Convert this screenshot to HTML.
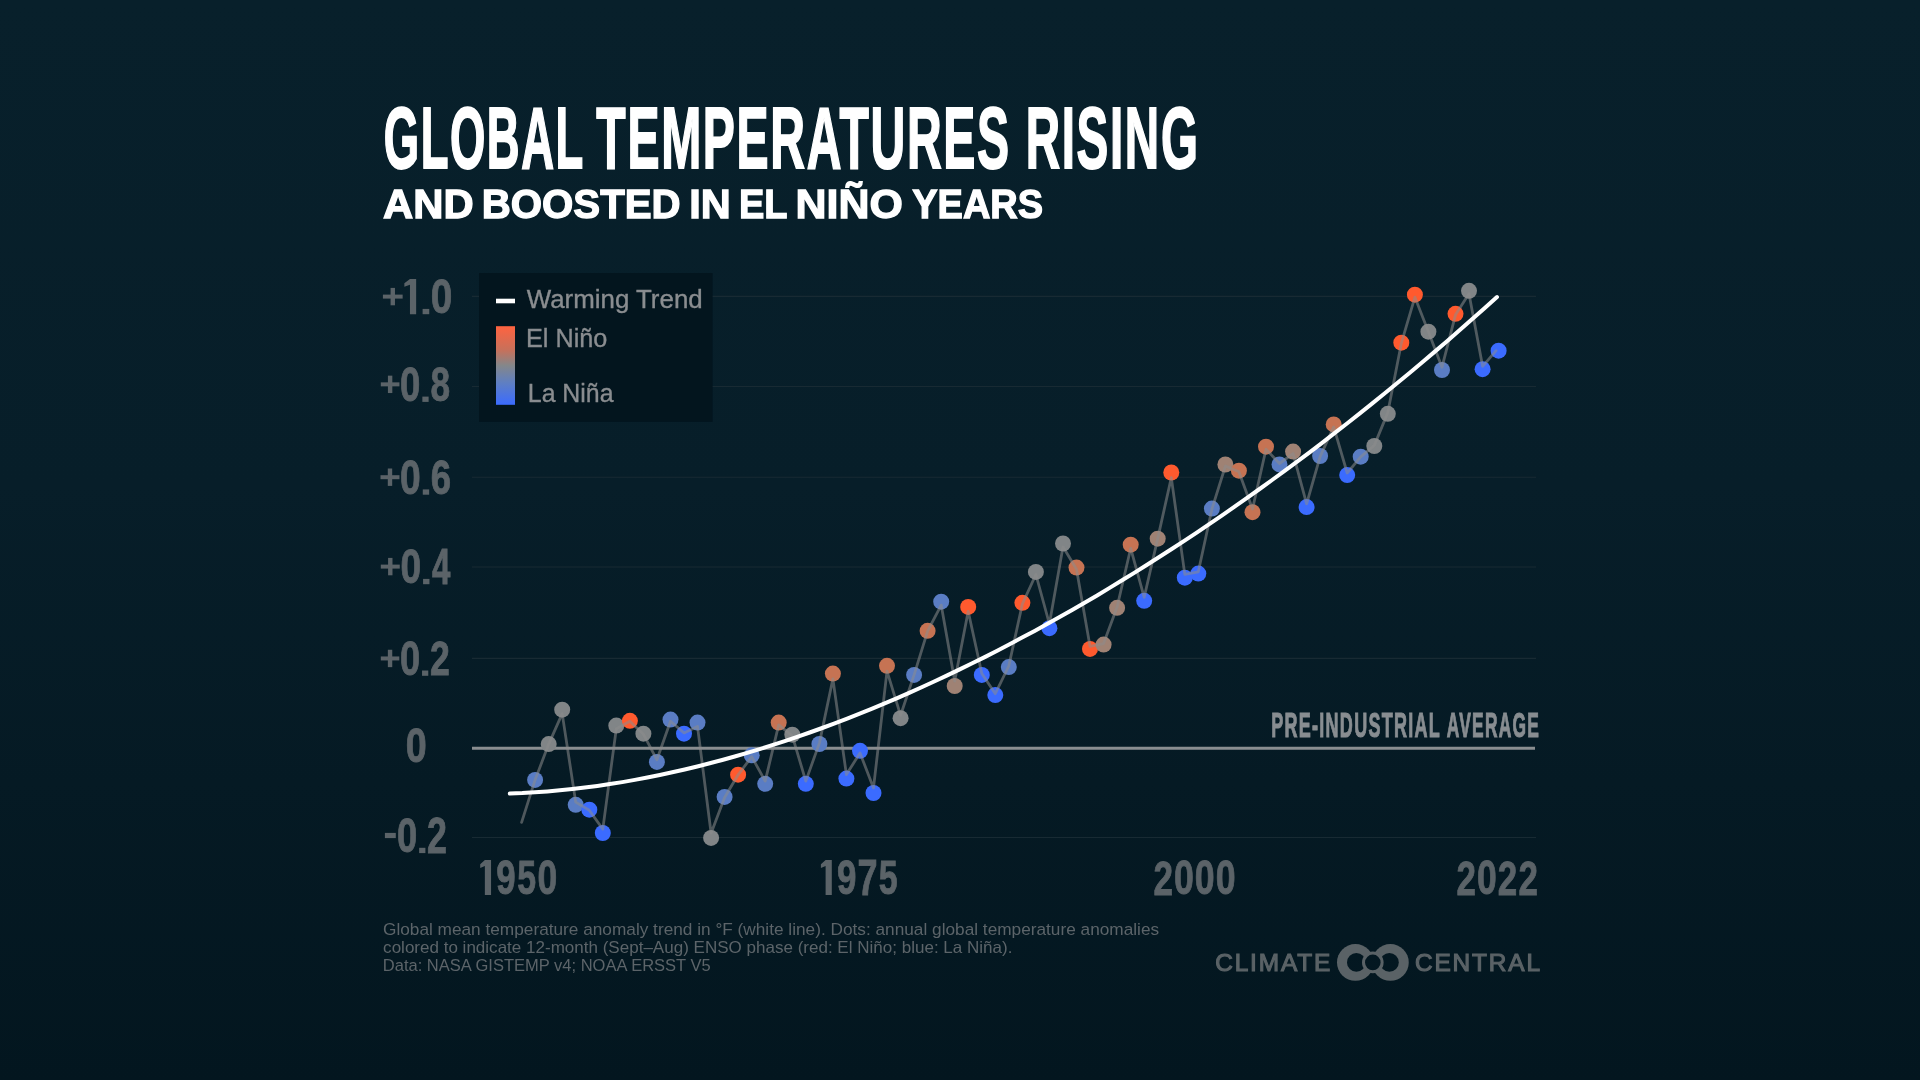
<!DOCTYPE html>
<html><head><meta charset="utf-8"><style>
html,body{margin:0;padding:0;width:1920px;height:1080px;overflow:hidden;background:#08202c;}
svg{display:block;will-change:transform;}
text{font-family:"Liberation Sans", sans-serif;}
.cond{font-weight:bold;fill:#5b6368;}
</style></head><body>
<svg width="1920" height="1080" viewBox="0 0 1920 1080">
<defs>
<linearGradient id="bg" x1="0" y1="0" x2="0" y2="1">
<stop offset="0" stop-color="#08202b"/><stop offset="0.45" stop-color="#071e29"/><stop offset="1" stop-color="#03161f"/>
</linearGradient>
<linearGradient id="leg" x1="0" y1="0" x2="0" y2="1">
<stop offset="0" stop-color="#ff6340"/><stop offset="0.3" stop-color="#c8705a"/><stop offset="0.5" stop-color="#84878a"/><stop offset="0.72" stop-color="#5f7fc2"/><stop offset="1" stop-color="#3b6bff"/>
</linearGradient>
<mask id="logom"><rect x="1300" y="900" width="150" height="100" fill="black"/>
<circle cx="1355.4" cy="962.4" r="18.4" fill="white"/><circle cx="1390.35" cy="962.4" r="18.4" fill="white"/>
<circle cx="1356.4" cy="962.4" r="9.4" fill="black"/><circle cx="1389.4" cy="962.4" r="9.4" fill="black"/>
<circle cx="1372.8" cy="962.4" r="10.8" fill="white"/><circle cx="1372.8" cy="962.4" r="7.8" fill="black"/>
</mask>
</defs>
<rect width="1920" height="1080" fill="url(#bg)"/>
<text x="383.73" y="167.87" font-size="87.63" font-weight="bold" textLength="201.22" lengthAdjust="spacingAndGlyphs" fill="#ffffff" stroke="#ffffff" stroke-width="1.9" letter-spacing="3">GLOBAL</text><text x="596.37" y="167.87" font-size="87.63" font-weight="bold" textLength="414.41" lengthAdjust="spacingAndGlyphs" fill="#ffffff" stroke="#ffffff" stroke-width="1.9" letter-spacing="3">TEMPERATURES</text><text x="1025.74" y="167.87" font-size="87.63" font-weight="bold" textLength="173.82" lengthAdjust="spacingAndGlyphs" fill="#ffffff" stroke="#ffffff" stroke-width="1.9" letter-spacing="3">RISING</text>
<text x="383.0" y="217.75" font-size="41.02" font-weight="bold" textLength="90.58" lengthAdjust="spacingAndGlyphs" fill="#ffffff" stroke="#ffffff" stroke-width="1.3">AND</text><text x="481.63" y="217.75" font-size="41.02" font-weight="bold" textLength="199.02" lengthAdjust="spacingAndGlyphs" fill="#ffffff" stroke="#ffffff" stroke-width="1.3">BOOSTED</text><text x="689.35" y="217.75" font-size="41.02" font-weight="bold" textLength="41.5" lengthAdjust="spacingAndGlyphs" fill="#ffffff" stroke="#ffffff" stroke-width="1.3">IN</text><text x="738.99" y="217.75" font-size="41.02" font-weight="bold" textLength="48.52" lengthAdjust="spacingAndGlyphs" fill="#ffffff" stroke="#ffffff" stroke-width="1.3">EL</text><text x="795.56" y="217.75" font-size="41.02" font-weight="bold" textLength="107.22" lengthAdjust="spacingAndGlyphs" fill="#ffffff" stroke="#ffffff" stroke-width="1.3">NIÑO</text><text x="912.29" y="217.75" font-size="41.02" font-weight="bold" textLength="130.8" lengthAdjust="spacingAndGlyphs" fill="#ffffff" stroke="#ffffff" stroke-width="1.3">YEARS</text>
<line x1="472" x2="1536" y1="296.4" y2="296.4" stroke="#182a33" stroke-width="1.1"/><line x1="472" x2="1536" y1="386.5" y2="386.5" stroke="#182a33" stroke-width="1.1"/><line x1="472" x2="1536" y1="477.2" y2="477.2" stroke="#182a33" stroke-width="1.1"/><line x1="472" x2="1536" y1="567.0" y2="567.0" stroke="#182a33" stroke-width="1.1"/><line x1="472" x2="1536" y1="658.4" y2="658.4" stroke="#182a33" stroke-width="1.1"/><line x1="472" x2="1536" y1="837.5" y2="837.5" stroke="#182a33" stroke-width="1.1"/>
<rect x="382.90" y="294.60" width="19.74" height="4" fill="#5b6368"/><rect x="390.57" y="287.90" width="4.4" height="17.4" fill="#5b6368"/><path d="M409.96,279 L416.16,279 L416.16,314.2 L409.96,314.2 L409.96,284.80 L404.36,286.80 L404.36,283.20 Z" fill="#5b6368"/><rect x="422.60" y="308.90" width="6.65" height="5.3" fill="#5b6368"/><text x="430.84" y="313.27" font-size="48.48" font-weight="bold" textLength="21.56" lengthAdjust="spacingAndGlyphs" fill="#5b6368" stroke="#5b6368" stroke-width="0.9">0</text><rect x="380.80" y="382.35" width="18.64" height="4" fill="#5b6368"/><rect x="387.92" y="375.65" width="4.4" height="17.4" fill="#5b6368"/><text x="400.06" y="400.97" font-size="48.34" font-weight="bold" textLength="20.3" lengthAdjust="spacingAndGlyphs" fill="#5b6368" stroke="#5b6368" stroke-width="0.9">0</text><rect x="422.35" y="396.60" width="6.28" height="5.3" fill="#5b6368"/><text x="430.47" y="400.97" font-size="48.34" font-weight="bold" textLength="19.58" lengthAdjust="spacingAndGlyphs" fill="#5b6368" stroke="#5b6368" stroke-width="0.9">8</text><rect x="380.50" y="475.20" width="18.97" height="4" fill="#5b6368"/><rect x="387.79" y="468.50" width="4.4" height="17.4" fill="#5b6368"/><text x="400.08" y="493.77" font-size="48.2" font-weight="bold" textLength="20.68" lengthAdjust="spacingAndGlyphs" fill="#5b6368" stroke="#5b6368" stroke-width="0.9">0</text><rect x="422.77" y="489.40" width="6.39" height="5.3" fill="#5b6368"/><text x="430.82" y="493.77" font-size="48.2" font-weight="bold" textLength="20.35" lengthAdjust="spacingAndGlyphs" fill="#5b6368" stroke="#5b6368" stroke-width="0.9">6</text><rect x="380.80" y="564.60" width="18.97" height="4" fill="#5b6368"/><rect x="388.09" y="557.90" width="4.4" height="17.4" fill="#5b6368"/><text x="400.38" y="583.27" font-size="48.48" font-weight="bold" textLength="20.68" lengthAdjust="spacingAndGlyphs" fill="#5b6368" stroke="#5b6368" stroke-width="0.9">0</text><rect x="423.07" y="578.90" width="6.39" height="5.3" fill="#5b6368"/><text x="432.0" y="583.75" font-size="49.89" font-weight="bold" textLength="18.36" lengthAdjust="spacingAndGlyphs" fill="#5b6368" stroke="#5b6368" stroke-width="0.9">4</text><rect x="380.80" y="656.45" width="18.51" height="4" fill="#5b6368"/><rect x="387.85" y="649.75" width="4.4" height="17.4" fill="#5b6368"/><text x="399.92" y="674.87" font-size="47.77" font-weight="bold" textLength="20.15" lengthAdjust="spacingAndGlyphs" fill="#5b6368" stroke="#5b6368" stroke-width="0.9">0</text><rect x="422.04" y="670.50" width="6.24" height="5.3" fill="#5b6368"/><text x="430.0" y="675.35" font-size="48.46" font-weight="bold" textLength="19.83" lengthAdjust="spacingAndGlyphs" fill="#5b6368" stroke="#5b6368" stroke-width="0.9">2</text><text x="405.74" y="761.87" font-size="47.77" font-weight="bold" textLength="20.96" lengthAdjust="spacingAndGlyphs" fill="#5b6368" stroke="#5b6368" stroke-width="0.9">0</text><rect x="384.90" y="832.90" width="10.91" height="5.2" fill="#5b6368"/><text x="396.92" y="852.17" font-size="48.48" font-weight="bold" textLength="20.23" lengthAdjust="spacingAndGlyphs" fill="#5b6368" stroke="#5b6368" stroke-width="0.9">0</text><rect x="419.14" y="847.80" width="6.26" height="5.3" fill="#5b6368"/><text x="427.12" y="852.65" font-size="49.18" font-weight="bold" textLength="19.92" lengthAdjust="spacingAndGlyphs" fill="#5b6368" stroke="#5b6368" stroke-width="0.9">2</text><path d="M484.86,860.1 L491.06,860.1 L491.06,895 L484.86,895 L484.86,865.90 L480.20,867.90 L480.20,864.30 Z" fill="#5b6368"/><text x="496.21" y="894.07" font-size="48.06" font-weight="bold" textLength="19.34" lengthAdjust="spacingAndGlyphs" fill="#5b6368" stroke="#5b6368" stroke-width="0.9">9</text><text x="517.14" y="894.06" font-size="48.75" font-weight="bold" textLength="18.86" lengthAdjust="spacingAndGlyphs" fill="#5b6368" stroke="#5b6368" stroke-width="0.9">5</text><text x="537.46" y="894.07" font-size="48.06" font-weight="bold" textLength="19.75" lengthAdjust="spacingAndGlyphs" fill="#5b6368" stroke="#5b6368" stroke-width="0.9">0</text><path d="M825.60,860.1 L831.80,860.1 L831.80,895 L825.60,895 L825.60,865.90 L820.90,867.90 L820.90,864.30 Z" fill="#5b6368"/><text x="836.97" y="894.07" font-size="48.06" font-weight="bold" textLength="19.42" lengthAdjust="spacingAndGlyphs" fill="#5b6368" stroke="#5b6368" stroke-width="0.9">9</text><text x="857.47" y="894.55" font-size="49.45" font-weight="bold" textLength="20.04" lengthAdjust="spacingAndGlyphs" fill="#5b6368" stroke="#5b6368" stroke-width="0.9">7</text><text x="878.79" y="894.06" font-size="48.75" font-weight="bold" textLength="18.93" lengthAdjust="spacingAndGlyphs" fill="#5b6368" stroke="#5b6368" stroke-width="0.9">5</text><text x="1153.42" y="894.55" font-size="48.75" font-weight="bold" textLength="19.53" lengthAdjust="spacingAndGlyphs" fill="#5b6368" stroke="#5b6368" stroke-width="0.9">2</text><text x="1174.04" y="894.07" font-size="48.06" font-weight="bold" textLength="19.84" lengthAdjust="spacingAndGlyphs" fill="#5b6368" stroke="#5b6368" stroke-width="0.9">0</text><text x="1194.86" y="894.07" font-size="48.06" font-weight="bold" textLength="19.84" lengthAdjust="spacingAndGlyphs" fill="#5b6368" stroke="#5b6368" stroke-width="0.9">0</text><text x="1215.68" y="894.07" font-size="48.06" font-weight="bold" textLength="19.84" lengthAdjust="spacingAndGlyphs" fill="#5b6368" stroke="#5b6368" stroke-width="0.9">0</text><text x="1456.43" y="894.55" font-size="48.75" font-weight="bold" textLength="19.43" lengthAdjust="spacingAndGlyphs" fill="#5b6368" stroke="#5b6368" stroke-width="0.9">2</text><text x="1476.95" y="894.07" font-size="48.06" font-weight="bold" textLength="19.74" lengthAdjust="spacingAndGlyphs" fill="#5b6368" stroke="#5b6368" stroke-width="0.9">0</text><text x="1497.86" y="894.55" font-size="48.75" font-weight="bold" textLength="19.43" lengthAdjust="spacingAndGlyphs" fill="#5b6368" stroke="#5b6368" stroke-width="0.9">2</text><text x="1518.57" y="894.55" font-size="48.75" font-weight="bold" textLength="19.43" lengthAdjust="spacingAndGlyphs" fill="#5b6368" stroke="#5b6368" stroke-width="0.9">2</text>

<line x1="472" x2="1535" y1="748.3" y2="748.3" stroke="#8a8e90" stroke-width="3"/>
<text x="1271.14" y="737.35" font-size="34.76" font-weight="bold" textLength="169.98" lengthAdjust="spacingAndGlyphs" fill="#888d91" stroke="#888d91" stroke-width="1.1" letter-spacing="2.5">PRE-INDUSTRIAL</text><text x="1446.72" y="737.35" font-size="34.76" font-weight="bold" textLength="93.36" lengthAdjust="spacingAndGlyphs" fill="#888d91" stroke="#888d91" stroke-width="1.1" letter-spacing="2.5">AVERAGE</text>
<rect x="479" y="273" width="233.6" height="148.9" fill="#03151e"/>
<rect x="496" y="298.7" width="19" height="4.6" fill="#ffffff"/>
<rect x="496" y="326.2" width="19" height="78.6" fill="url(#leg)"/>
<text x="526.75" y="307.72" font-size="25.24" textLength="175.92" lengthAdjust="spacingAndGlyphs" fill="#8a8d90" stroke="#8a8d90" stroke-width="0.35">Warming Trend</text><text x="525.99" y="346.62" font-size="24.95" textLength="81.37" lengthAdjust="spacingAndGlyphs" fill="#8a8d90" stroke="#8a8d90" stroke-width="0.35">El Niño</text><text x="527.82" y="401.62" font-size="25.24" textLength="85.69" lengthAdjust="spacingAndGlyphs" fill="#8a8d90" stroke="#8a8d90" stroke-width="0.35">La Niña</text>
<g><circle cx="535.1" cy="779.9" r="8" fill="#5a7dc4"/><circle cx="548.7" cy="744.1" r="8" fill="#818587"/><circle cx="562.2" cy="709.7" r="8" fill="#818587"/><circle cx="575.7" cy="804.8" r="8" fill="#5a7dc4"/><circle cx="589.3" cy="809.7" r="8" fill="#3b6bff"/><circle cx="602.8" cy="833.0" r="8" fill="#3b6bff"/><circle cx="616.3" cy="725.6" r="8" fill="#818587"/><circle cx="629.9" cy="720.8" r="8" fill="#ff5a2e"/><circle cx="643.4" cy="733.7" r="8" fill="#818587"/><circle cx="656.9" cy="761.9" r="8" fill="#5a7dc4"/><circle cx="670.5" cy="719.6" r="8" fill="#5a7dc4"/><circle cx="684.0" cy="733.7" r="8" fill="#3b6bff"/><circle cx="697.5" cy="722.6" r="8" fill="#5a7dc4"/><circle cx="711.1" cy="837.9" r="8" fill="#818587"/><circle cx="724.6" cy="796.9" r="8" fill="#5a7dc4"/><circle cx="738.1" cy="774.7" r="8" fill="#ff5a2e"/><circle cx="751.7" cy="755.3" r="8" fill="#5a7dc4"/><circle cx="765.2" cy="783.8" r="8" fill="#5a7dc4"/><circle cx="778.7" cy="722.6" r="8" fill="#c67353"/><circle cx="792.3" cy="734.7" r="8" fill="#818587"/><circle cx="805.8" cy="783.8" r="8" fill="#3b6bff"/><circle cx="819.4" cy="744.0" r="8" fill="#5a7dc4"/><circle cx="832.9" cy="673.6" r="8" fill="#c67353"/><circle cx="846.4" cy="778.6" r="8" fill="#3b6bff"/><circle cx="860.0" cy="750.8" r="8" fill="#3b6bff"/><circle cx="873.5" cy="793.0" r="8" fill="#3b6bff"/><circle cx="887.0" cy="665.8" r="8" fill="#c67353"/><circle cx="900.6" cy="718.2" r="8" fill="#818587"/><circle cx="914.1" cy="674.9" r="8" fill="#5a7dc4"/><circle cx="927.6" cy="630.8" r="8" fill="#c67353"/><circle cx="941.2" cy="601.7" r="8" fill="#5a7dc4"/><circle cx="954.7" cy="686.0" r="8" fill="#9f8274"/><circle cx="968.2" cy="606.9" r="8" fill="#ff5a2e"/><circle cx="981.8" cy="674.9" r="8" fill="#3b6bff"/><circle cx="995.3" cy="695.1" r="8" fill="#3b6bff"/><circle cx="1008.8" cy="667.1" r="8" fill="#5a7dc4"/><circle cx="1022.4" cy="602.8" r="8" fill="#ff5a2e"/><circle cx="1035.9" cy="571.9" r="8" fill="#818587"/><circle cx="1049.4" cy="628.2" r="8" fill="#3b6bff"/><circle cx="1063.0" cy="543.5" r="8" fill="#818587"/><circle cx="1076.5" cy="567.6" r="8" fill="#c67353"/><circle cx="1090.0" cy="648.9" r="8" fill="#ff5a2e"/><circle cx="1103.6" cy="644.6" r="8" fill="#9f8274"/><circle cx="1117.1" cy="607.8" r="8" fill="#9f8274"/><circle cx="1130.7" cy="544.7" r="8" fill="#c67353"/><circle cx="1144.2" cy="600.8" r="8" fill="#3b6bff"/><circle cx="1157.7" cy="538.7" r="8" fill="#9f8274"/><circle cx="1171.3" cy="472.5" r="8" fill="#ff5a2e"/><circle cx="1184.8" cy="577.7" r="8" fill="#3b6bff"/><circle cx="1198.3" cy="573.6" r="8" fill="#3b6bff"/><circle cx="1211.9" cy="508.6" r="8" fill="#5a7dc4"/><circle cx="1225.4" cy="464.5" r="8" fill="#9f8274"/><circle cx="1238.9" cy="470.7" r="8" fill="#c67353"/><circle cx="1252.5" cy="512.2" r="8" fill="#c67353"/><circle cx="1266.0" cy="446.7" r="8" fill="#c67353"/><circle cx="1279.5" cy="464.4" r="8" fill="#5a7dc4"/><circle cx="1293.1" cy="451.6" r="8" fill="#9f8274"/><circle cx="1306.6" cy="507.1" r="8" fill="#3b6bff"/><circle cx="1320.1" cy="456.0" r="8" fill="#5a7dc4"/><circle cx="1333.7" cy="424.4" r="8" fill="#c67353"/><circle cx="1347.2" cy="475.1" r="8" fill="#3b6bff"/><circle cx="1360.7" cy="456.7" r="8" fill="#5a7dc4"/><circle cx="1374.3" cy="446.0" r="8" fill="#818587"/><circle cx="1387.8" cy="413.8" r="8" fill="#818587"/><circle cx="1401.3" cy="342.7" r="8" fill="#ff5a2e"/><circle cx="1414.9" cy="294.7" r="8" fill="#ff5a2e"/><circle cx="1428.4" cy="331.7" r="8" fill="#818587"/><circle cx="1442.0" cy="370.0" r="8" fill="#5a7dc4"/><circle cx="1455.5" cy="313.8" r="8" fill="#ff5a2e"/><circle cx="1469.0" cy="290.8" r="8" fill="#818587"/><circle cx="1482.6" cy="369.2" r="8" fill="#3b6bff"/><circle cx="1498.6" cy="350.7" r="8" fill="#3b6bff"/></g>
<path d="M521.6,822.3 L535.1,779.9 L548.7,744.1 L562.2,713.6 L575.7,802.1 L589.3,810.3 L602.8,829.1 L616.3,728.7 L629.9,721.3 L643.4,734.2 L656.9,759.8 L670.5,721.3 L684.0,732.9 L697.5,726.4 L711.1,833.2 L724.6,797.5 L738.1,774.8 L751.7,756.7 L765.2,781.1 L778.7,724.8 L792.3,735.8 L805.8,781.1 L819.4,743.1 L832.9,678.9 L846.4,774.6 L860.0,752.9 L873.5,787.9 L887.0,671.2 L900.6,715.3 L914.1,674.9 L927.6,631.2 L941.2,605.1 L954.7,681.1 L968.2,611.3 L981.8,673.5 L995.3,693.7 L1008.8,666.0 L1022.4,603.8 L1035.9,574.5 L1049.4,624.0 L1063.0,546.8 L1076.5,569.3 L1090.0,646.3 L1103.6,643.6 L1117.1,607.0 L1130.7,548.3 L1144.2,597.3 L1157.7,538.6 L1171.3,477.6 L1184.8,574.4 L1198.3,571.8 L1211.9,509.2 L1225.4,466.0 L1238.9,471.8 L1252.5,509.0 L1266.0,449.2 L1279.5,463.5 L1293.1,453.6 L1306.6,503.9 L1320.1,456.6 L1333.7,426.9 L1347.2,473.0 L1360.7,456.9 L1374.3,445.4 L1387.8,412.6 L1401.3,343.4 L1414.9,297.2 L1428.4,331.7 L1442.0,367.2 L1455.5,314.8 L1469.0,293.8 L1482.6,366.3 L1496.1,350.7" fill="none" stroke="#8c8c8c" stroke-opacity="0.55" stroke-width="2.8" stroke-linejoin="round" stroke-linecap="round"/>
<path d="M509.8,793.6 L522.3,793.1 L534.8,792.3 L547.3,791.4 L559.8,790.3 L572.3,789.0 L584.8,787.5 L597.3,785.9 L609.8,784.1 L622.3,782.1 L634.8,779.9 L647.3,777.5 L659.8,775.0 L672.3,772.3 L684.7,769.5 L697.2,766.5 L709.7,763.3 L722.2,760.0 L734.7,756.5 L747.2,752.9 L759.7,749.1 L772.2,745.2 L784.7,741.1 L797.2,736.9 L809.7,732.5 L822.2,728.0 L834.7,723.4 L847.2,718.6 L859.7,713.7 L872.2,708.6 L884.7,703.4 L897.2,698.1 L909.7,692.6 L922.2,687.0 L934.7,681.3 L947.2,675.4 L959.7,669.4 L972.2,663.3 L984.7,657.1 L997.2,650.7 L1009.6,644.2 L1022.1,637.6 L1034.6,630.9 L1047.1,624.0 L1059.6,617.0 L1072.1,609.9 L1084.6,602.7 L1097.1,595.4 L1109.6,587.9 L1122.1,580.3 L1134.6,572.6 L1147.1,564.8 L1159.6,556.8 L1172.1,548.8 L1184.6,540.6 L1197.1,532.3 L1209.6,523.9 L1222.1,515.4 L1234.6,506.7 L1247.1,497.9 L1259.6,489.0 L1272.1,480.0 L1284.6,470.9 L1297.1,461.7 L1309.6,452.3 L1322.1,442.8 L1334.5,433.2 L1347.0,423.5 L1359.5,413.6 L1372.0,403.6 L1384.5,393.5 L1397.0,383.3 L1409.5,373.0 L1422.0,362.5 L1434.5,351.9 L1447.0,341.2 L1459.5,330.3 L1472.0,319.3 L1484.5,308.2 L1497.0,297.0" fill="none" stroke="#ffffff" stroke-width="4" stroke-linecap="round"/>
<text x="382.99" y="934.64" font-size="16.25" textLength="776.13" lengthAdjust="spacingAndGlyphs" fill="#5c6469">Global mean temperature anomaly trend in °F (white line). Dots: annual global temperature anomalies</text><text x="383.13" y="952.5" font-size="15.86" textLength="629.32" lengthAdjust="spacingAndGlyphs" fill="#5c6469">colored to indicate 12-month (Sept–Aug) ENSO phase (red: El Niño; blue: La Niña).</text><text x="382.84" y="970.8" font-size="16.87" textLength="327.86" lengthAdjust="spacingAndGlyphs" fill="#5c6469">Data: NASA GISTEMP v4; NOAA ERSST V5</text>
<text x="1215.23" y="971.31" font-size="23.89" textLength="116.89" lengthAdjust="spacingAndGlyphs" fill="#5a6266" stroke="#5a6266" stroke-width="1.1" letter-spacing="1.8">CLIMATE</text><text x="1414.93" y="971.02" font-size="23.46" textLength="126.99" lengthAdjust="spacingAndGlyphs" fill="#5a6266" stroke="#5a6266" stroke-width="1.1" letter-spacing="1.8">CENTRAL</text>
<rect x="1320" y="930" width="110" height="70" fill="#5a6266" mask="url(#logom)"/>
</svg>
</body></html>
